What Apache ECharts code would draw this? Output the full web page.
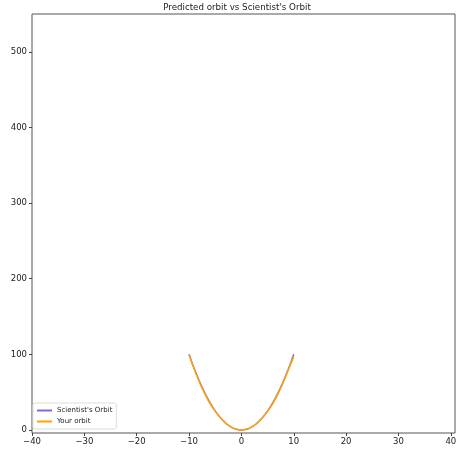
<!DOCTYPE html>
<html>
<head>
<meta charset="utf-8">
<script src="https://cdn.jsdelivr.net/npm/echarts@6/dist/echarts.min.js"></script>
<style>
  html, body { margin: 0; padding: 0; background: #fff; }
  #chart { width: 474px; height: 454px; }
</style>
</head>
<body>
<div id="chart"></div>
<script>
// orbit points
const orbitX = [-10, -9, -8, -7, -6, -5, -4, -3, -2, -1, 0, 1, 2, 3, 4, 5, 6, 7, 8, 9, 10];
const scientistY = [100, 81, 64, 49, 36, 25, 16, 9, 4, 1, 0, 1, 4, 9, 16, 25, 36, 49, 64, 81, 100];
const predictedY = [99, 80, 63, 48, 35, 25, 16, 9, 4, 1, 0, 1, 4, 9, 16, 25, 35, 48, 63, 80, 97];
const xTicks = [-40, -30, -20, -10, 0, 10, 20, 30, 40];
const yTicks = [0, 100, 200, 300, 400, 500];

const chart = echarts.init(document.getElementById("chart"));
const font = "DejaVu Sans";

chart.setOption({
    animation: false,
    title: {
        text: "Predicted orbit vs Scientist's Orbit",
        left: "center",
        top: 3,
        padding: 0,
        textStyle: { fontFamily: font, fontSize: 8.7, fontWeight: "normal", color: "#222" },
    },
    grid: {
        left: 32, right: 19, top: 14, bottom: 21,
        show: true, borderColor: "#555", borderWidth: 1,
    },
    legend: {
        orient: "vertical",
        left: 33, bottom: 25,
        padding: [4, 4, 4, 4],
        itemGap: 4,
        itemWidth: 15, itemHeight: 2,
        borderColor: "#ddd", borderWidth: 1, borderRadius: 2,
        backgroundColor: "#fff",
        textStyle: { fontFamily: font, fontSize: 7, color: "#222" },
        data: [
            { name: "Scientist's Orbit", icon: "rect" },
            { name: "Your orbit", icon: "rect" },
        ],
    },
    xAxis: {
        type: "value",
        min: -40, max: 40.8,
        axisLine: { show: false, onZero: false },
        splitLine: { show: false },
        axisTick: { show: true, length: 3, lineStyle: { color: "#444" }, customValues: xTicks },
        axisLabel: { fontFamily: font, fontSize: 8.5, color: "#222", margin: 4, customValues: xTicks,
            formatter: v => (v < 0 ? "\u2212" + Math.abs(v) : String(v)) },
    },
    yAxis: {
        type: "value",
        min: -4, max: 550,
        axisLine: { show: false, onZero: false },
        splitLine: { show: false },
        axisTick: { show: true, length: 3, lineStyle: { color: "#444" }, customValues: yTicks },
        axisLabel: { fontFamily: font, fontSize: 8.5, color: "#222", margin: 5, customValues: yTicks },
    },
    series: [
        {
            name: "Scientist's Orbit",
            type: "line",
            smooth: true,
            showSymbol: false,
            color: "#7b68ee",
            lineStyle: { width: 1.5 },
            data: orbitX.map((x, i) => [x, scientistY[i]]),
        },
        {
            name: "Your orbit",
            type: "line",
            smooth: true,
            showSymbol: false,
            color: "#ffa500",
            lineStyle: { width: 1.5 },
            data: orbitX.map((x, i) => [x, predictedY[i]]),
        },
    ],
});
</script>
</body>
</html>
